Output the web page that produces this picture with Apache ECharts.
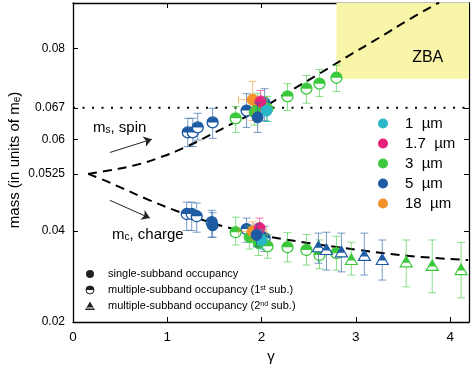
<!DOCTYPE html>
<html>
<head>
<meta charset="utf-8">
<script src="https://cdn.jsdelivr.net/npm/echarts@6/dist/echarts.min.js"></script>
<style>html,body{margin:0;padding:0;background:#fff}#c{width:474px;height:369px}</style>
</head>
<body>
<div id="c"></div>
<script>
const FONT = 'Liberation Sans, Arial, Helvetica, sans-serif';

// axis ticks
const GAMMA_TICKS = [0, 1, 2, 3, 4];
const MASS_TICKS = [0.02, 0.04, 0.0525, 0.06, 0.067, 0.08];
const MASS_TICK_LABELS = ['0.02', '0.04', '0.0525', '0.06', '0.067', '0.08'];
const LEGEND_NAMES = ['1  µm', '1.7  µm', '3  µm', '5  µm', '18  µm'];

// rows: [gamma, mass, errLow, errHigh, gammaErr]
const spin5Half = [[1.217,0.0616,0.0585,0.0647],[1.270,0.0616,0.0585,0.0647],[1.323,0.0627,0.0599,0.0658],[1.481,0.0638,0.0603,0.0669],[1.841,0.0664,0.0627,0.0701],[2.032,0.0680,0.0642,0.0712]];
const spin5Full = [[1.958,0.0649,0.0616,0.0681]];
const spin3Half = [[1.725,0.0647,0.0616,0.0673],[2.275,0.0695,0.0664,0.0723],[2.476,0.0712,0.0680,0.0741],[2.614,0.0723,0.0695,0.0754],[2.794,0.0736,0.0706,0.0763]];
const spin3Full = [[1.926,0.0660,0.0632,0.0688],[1.958,0.0675,0.0647,0.0702],[2.063,0.0668,0.0640,0.0695]];
const spin18Full = [[1.905,0.0688,0.0642,0.0728,0.15]];
const spin17Full = [[1.990,0.0684,0.0660,0.0708]];
const spin1Full = [[2.053,0.0664,0.0640,0.0690]];

const charge5Half = [[1.206,0.0437,0.0401,0.0463],[1.259,0.0437,0.0401,0.0463],[1.312,0.0432,0.0397,0.0461],[1.471,0.0419,0.0386,0.0445],[1.841,0.0404,0.0375,0.0428],[2.032,0.0384,0.0355,0.0410]];
const charge5Full = [[1.481,0.0412,0.0386,0.0440],[1.947,0.0391,0.0365,0.0415]];
const charge3Half = [[1.725,0.0397,0.0369,0.0430],[2.063,0.0366,0.0340,0.0392],[2.275,0.0364,0.0332,0.0396],[2.476,0.0358,0.0325,0.0392],[2.614,0.0347,0.0317,0.0380],[2.794,0.0351,0.0314,0.0388]];
const charge3Full = [[1.873,0.0386,0.0360,0.0410],[1.968,0.0373,0.0346,0.0400]];
const charge18Full = [[1.905,0.0399,0.0380,0.0420,0.15]];
const charge17Full = [[1.979,0.0406,0.0385,0.0428]];
const charge1Full = [[2.000,0.0380,0.0360,0.0402]];
const charge5Tri = [[2.603,0.0364,0.0329,0.0395],[2.688,0.0358,0.0314,0.0397],[2.847,0.0353,0.0310,0.0395],[3.090,0.0345,0.0303,0.0395],[3.280,0.0336,0.0292,0.0380]];
const charge3Tri = [[2.952,0.0336,0.0303,0.0375],[3.534,0.0331,0.0277,0.0380],[3.810,0.0323,0.0264,0.0380],[4.116,0.0314,0.0253,0.0375]];

// dashed guide curves
const spinCurve = [[0.16,0.0525],[0.392,0.0533],[0.656,0.0544],[0.921,0.0561],[1.185,0.0583],[1.450,0.0610],[1.714,0.0638],[1.979,0.0666],[2.296,0.0706],[2.614,0.0745],[2.931,0.0785],[3.249,0.0824],[3.566,0.0864],[3.884,0.0901]];
const chargeCurve = [[0.16,0.0525],[0.286,0.0515],[0.497,0.0496],[0.815,0.0467],[1.132,0.0441],[1.344,0.0426],[1.630,0.0408],[1.979,0.0391],[2.508,0.0373],[3.037,0.0358],[3.566,0.0345],[4.19,0.0336]];
const bulkMass = [[0, 0.067], [4.2, 0.067]];
const zbaBox = [[2.794, 0.0734], [4.2, 0.09]];

const COLORS = {'1  µm':'#29b6c6', '1.7  µm':'#e8227a', '3  µm':'#3cc83c', '5  µm':'#1e5ba3', '18  µm':'#f4922c'};

const groups = [
  [spin5Half,'5  µm','half'], [charge5Half,'5  µm','half'],
  [spin3Half,'3  µm','half'], [charge3Half,'3  µm','half'],
  [charge5Tri,'5  µm','tri'], [charge3Tri,'3  µm','tri'],
  [spin3Full,'3  µm','full'], [charge3Full,'3  µm','full'],
  [spin18Full,'18  µm','full'], [charge18Full,'18  µm','full'],
  [spin17Full,'1.7  µm','full'], [charge17Full,'1.7  µm','full'],
  [spin1Full,'1  µm','full'], [charge1Full,'1  µm','full'],
  [spin5Full,'5  µm','full'], [charge5Full,'5  µm','full']
];

function makeRender(color, shape) {
  return function (params, api) {
    const g = api.value(0), m = api.value(1), lo = api.value(2), hi = api.value(3);
    let xe = api.value(4); if (!(xe > 0)) xe = 0;
    const p = api.coord([g, m]), pl = api.coord([g, lo]), ph = api.coord([g, hi]);
    const cx = p[0], cy = p[1], cap = 4;
    const es = {stroke: color, lineWidth: 1, opacity: 0.6};
    const kids = [
      {type:'line', shape:{x1:cx,y1:pl[1],x2:cx,y2:ph[1]}, style:es},
      {type:'line', shape:{x1:cx-cap,y1:pl[1],x2:cx+cap,y2:pl[1]}, style:es},
      {type:'line', shape:{x1:cx-cap,y1:ph[1],x2:cx+cap,y2:ph[1]}, style:es}
    ];
    if (xe) {
      const a = api.coord([g - xe, m]), b = api.coord([g + xe, m]);
      kids.push({type:'line', shape:{x1:a[0],y1:cy,x2:b[0],y2:cy}, style:es});
      kids.push({type:'line', shape:{x1:a[0],y1:cy-cap,x2:a[0],y2:cy+cap}, style:es});
      kids.push({type:'line', shape:{x1:b[0],y1:cy-cap,x2:b[0],y2:cy+cap}, style:es});
    }
    const r = 5.5;
    if (shape === 'full') {
      kids.push({type:'circle', shape:{cx, cy, r}, style:{fill:color, stroke:color, lineWidth:1}});
    } else if (shape === 'half') {
      kids.push({type:'circle', shape:{cx, cy, r}, style:{fill:'#fff', stroke:color, lineWidth:1.3}});
      kids.push({type:'sector', shape:{cx, cy, r0:0, r:r, startAngle:Math.PI, endAngle:2*Math.PI, clockwise:true}, style:{fill:color}});
    } else {
      kids.push({type:'polygon', shape:{points:[[cx,cy-6],[cx-6,cy+4.5],[cx+6,cy+4.5]]}, style:{fill:'#fff', stroke:color, lineWidth:1.2}});
      kids.push({type:'polygon', shape:{points:[[cx,cy-6],[cx-3.7,cy+0.5],[cx+3.7,cy+0.5]]}, style:{fill:color}});
    }
    return {type:'group', children:kids};
  };
}

const series = [
  {
    type:'line', data: bulkMass, symbol:'none', silent:true, z:2,
    lineStyle:{color:'#000', width:2, type:[2,7.5]},
    markArea:{silent:true, itemStyle:{color:'#f8f4a8'},
      label:{show:true, position:'inside', offset:[25,17], color:'#000', fontSize:16, fontFamily:FONT},
      data:[[{name:'ZBA', coord:zbaBox[0]}, {coord:zbaBox[1]}]]},
    markLine:{silent:true, symbol:['none','arrow'], symbolSize:8, label:{show:false},
      lineStyle:{color:'#222', width:1, type:'solid'},
      data:[[{coord:[0.392,0.0572]},{coord:[0.836,0.0601]}],[{coord:[0.392,0.0467]},{coord:[0.815,0.0428]}]]}
  },
  {type:'line', data: spinCurve, smooth:true, symbol:'none', silent:true, z:3, lineStyle:{color:'#000', width:2, type:[9,6]}},
  {type:'line', data: chargeCurve, smooth:true, symbol:'none', silent:true, z:3, lineStyle:{color:'#000', width:2, type:[9,6]}}
];
groups.forEach(([data, name, shape]) => {
  series.push({type:'custom', name, data, z:5, clip:true,
    itemStyle:{color:COLORS[name]},
    encode:{x:0, y:1},
    renderItem: makeRender(COLORS[name], shape)});
});

const axisCommon = {axisLine:{show:true, onZero:false, lineStyle:{color:'#000', width:1.3}}, splitLine:{show:false}};

const option = {
  animation:false,
  textStyle:{fontFamily:FONT},
  grid:{left:73, right:5, top:3, bottom:47},
  xAxis:[
    Object.assign({type:'value', min:0, max:4.2,
      axisTick:{inside:true, length:5, customValues:GAMMA_TICKS, lineStyle:{color:'#000'}},
      axisLabel:{customValues:GAMMA_TICKS, fontSize:13.5, color:'#000', margin:8, fontFamily:FONT},
      name:'γ', nameLocation:'middle', nameGap:26, nameTextStyle:{fontSize:15, color:'#000', fontFamily:FONT}}, axisCommon),
    Object.assign({type:'value', min:0, max:4.2, position:'top',
      axisTick:{inside:true, length:5, customValues:GAMMA_TICKS, lineStyle:{color:'#000'}},
      axisLabel:{show:false}}, axisCommon)
  ],
  yAxis:[
    Object.assign({type:'value', min:0.02, max:0.09,
      axisTick:{inside:true, length:5, customValues:MASS_TICKS, lineStyle:{color:'#000'}},
      axisLabel:{customValues:MASS_TICKS, fontSize:12, color:'#000', margin:8, fontFamily:FONT,
        formatter:(v)=>{const i = MASS_TICKS.findIndex(t=>Math.abs(t-v)<1e-9); return i>=0?MASS_TICK_LABELS[i]:'';}}}, axisCommon),
    Object.assign({type:'value', min:0.02, max:0.09, position:'right',
      axisTick:{inside:true, length:5, customValues:MASS_TICKS, lineStyle:{color:'#000'}},
      axisLabel:{show:false}}, axisCommon)
  ],
  legend:{orient:'vertical', left:373, top:111, itemWidth:10, itemHeight:10, itemGap:5, icon:'circle',
    selectedMode:false, data:LEGEND_NAMES,
    textStyle:{fontSize:15, color:'#000', fontFamily:FONT, padding:[0,0,0,12]}},
  graphic:[
    {type:'text', x:15, y:160, rotation:Math.PI/2, style:{text:'{n|mass (in units of m}{s|e}{n|)}', textAlign:'center', textVerticalAlign:'middle',
      rich:{n:{fontSize:15, fontFamily:FONT, fill:'#000'}, s:{fontSize:10, fontFamily:FONT, fill:'#000', verticalAlign:'bottom'}}}},
    {type:'text', x:93, y:128, style:{text:'{n|m}{s|s}{n|, spin}', textVerticalAlign:'middle',
      rich:{n:{fontSize:15, fontFamily:FONT, fill:'#000'}, s:{fontSize:10, fontFamily:FONT, fill:'#000', verticalAlign:'bottom'}}}},
    {type:'text', x:112, y:235, style:{text:'{n|m}{s|c}{n|, charge}', textVerticalAlign:'middle',
      rich:{n:{fontSize:15, fontFamily:FONT, fill:'#000'}, s:{fontSize:10, fontFamily:FONT, fill:'#000', verticalAlign:'bottom'}}}},
    {type:'circle', shape:{cx:90, cy:274, r:4}, style:{fill:'#222'}},
    {type:'circle', shape:{cx:90, cy:290, r:4}, style:{fill:'#fff', stroke:'#222', lineWidth:1}},
    {type:'sector', shape:{cx:90, cy:290, r0:0, r:4, startAngle:Math.PI, endAngle:2*Math.PI, clockwise:true}, style:{fill:'#222'}},
    {type:'polygon', shape:{points:[[90,301.5],[85,310],[95,310]]}, style:{fill:'#222'}},
    {type:'line', shape:{x1:86.5, y1:308, x2:93.5, y2:308}, style:{stroke:'#fff', lineWidth:1}},
    {type:'text', x:108, y:274, style:{text:'single-subband occupancy', fontSize:11, fontFamily:FONT, fill:'#000', textVerticalAlign:'middle'}},
    {type:'text', x:108, y:290, style:{text:'{n|multiple-subband occupancy (1}{s|st}{n| sub.)}', textVerticalAlign:'middle',
      rich:{n:{fontSize:11, fontFamily:FONT, fill:'#000'}, s:{fontSize:7, fontFamily:FONT, fill:'#000', verticalAlign:'top'}}}},
    {type:'text', x:108, y:306, style:{text:'{n|multiple-subband occupancy (2}{s|nd}{n| sub.)}', textVerticalAlign:'middle',
      rich:{n:{fontSize:11, fontFamily:FONT, fill:'#000'}, s:{fontSize:7, fontFamily:FONT, fill:'#000', verticalAlign:'top'}}}}
  ],
  series
};

const chart = echarts.init(document.getElementById('c'), null, {renderer:'canvas'});
chart.setOption(option);
</script>
</body>
</html>
